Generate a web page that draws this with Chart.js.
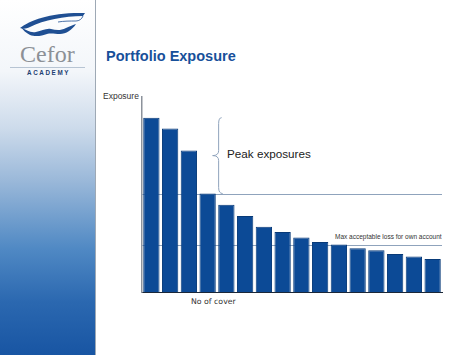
<!DOCTYPE html>
<html>
<head>
<meta charset="utf-8">
<script src="https://cdn.jsdelivr.net/npm/chart.js@4.4.1/dist/chart.umd.min.js"></script>
<style>
  html, body { margin: 0; padding: 0; background: #fff; }
  body { width: 474px; height: 355px; position: relative; overflow: hidden; font-family: "Liberation Sans", Arial, sans-serif; }
  #side {
    position: absolute; left: 0; top: 0; width: 95px; height: 355px;
    background: linear-gradient(to bottom, #ffffff 0%, #f3f6fa 20%, #cddbeb 36%, #9ab8d9 51%, #5089c4 70%, #2b68b0 85%, #1855a3 100%);
    border-right: 1px solid #9ea9b5;
  }
  .txt { position: absolute; white-space: nowrap; line-height: 1; }
  #cv { position: absolute; left: 0; top: 0; }
</style>
</head>
<body>
<div id="side">
  <svg width="95" height="80" style="position:absolute;left:0;top:0">
    <path d="M20 28 C30 20 52 12 85 13 L83 16 C64 16 44 20 30 27 C26 29 23 29 20 28 Z" fill="#1f4f93"/>
    <path d="M83 16 C82 19 79 21 76 21 C70 21 64 21 58 22" fill="none" stroke="#1f4f93" stroke-width="0.8"/>
    <path d="M21 27 C26 30 30 33 36 32 C42 31 46 28 51 29 C56 30 60 31 66 28 C70 26 73 25 76 24 C72 30 66 34 60 34 C55 34 51 33 47 34 C42 36 35 37 30 35 C26 33 23 30 21 27 Z" fill="#1f4f93"/>
  </svg>
  <div class="txt" style="left:20px;top:42px;font-family:'Liberation Serif','Times New Roman',serif;font-size:24px;color:#8c9096;">Cefor</div>
  <div style="position:absolute;left:10px;top:67px;width:75px;height:1px;background:#b7c4d3"></div>
  <div class="txt" style="left:27px;top:70px;font-size:6.3px;font-weight:900;letter-spacing:1.6px;color:#1d3f72;">ACADEMY</div>
</div>
<div class="txt" style="left:106px;top:49px;font-size:14.5px;font-weight:bold;color:#17509a;">Portfolio Exposure</div>
<div class="txt" style="left:103px;top:92px;font-size:8.5px;color:#333;">Exposure</div>
<div class="txt" style="left:191px;top:298px;font-family:'DejaVu Sans',Verdana,sans-serif;font-size:7.8px;color:#333;">No of cover</div>
<div class="txt" style="left:227px;top:148px;font-size:11.7px;color:#222;">Peak exposures</div>
<div class="txt" style="left:335px;top:234px;font-size:6.5px;color:#333;">Max acceptable loss for own account</div>
<canvas id="cv" width="474" height="355"></canvas>
<script>
const covers = ['1','2','3','4','5','6','7','8','9','10','11','12','13','14','15','16'];
const exposure = [89.4, 83.9, 72.6, 50.5, 44.7, 39.0, 33.4, 30.8, 27.9, 25.7, 24.3, 22.4, 21.4, 19.5, 18.2, 16.9];
const axisMax = 100;
const peakLevel = 50.5;
const maxLossLevel = 24.3;

const refLines = {
  id: 'refLines',
  beforeDatasetsDraw(chart) {
    const {ctx, chartArea, scales} = chart;
    ctx.save();
    ctx.strokeStyle = '#8fa3bc';
    ctx.lineWidth = 1;
    [peakLevel, maxLossLevel].forEach(v => {
      const y = Math.round(scales.y.getPixelForValue(v)) + 0.5;
      ctx.beginPath();
      ctx.moveTo(chartArea.left, y);
      ctx.lineTo(chartArea.right, y);
      ctx.stroke();
    });
    ctx.restore();
  },
  afterDatasetsDraw(chart) {
    // curly brace next to the peak bars
    const {ctx, scales} = chart;
    const top = scales.y.getPixelForValue(exposure[0]);
    const bot = scales.y.getPixelForValue(peakLevel);
    const mid = (top + bot) / 2;
    const x = scales.x.getPixelForValue(3) + 11;
    ctx.save();
    ctx.strokeStyle = '#8fa3bc';
    ctx.lineWidth = 1;
    ctx.beginPath();
    ctx.moveTo(x + 3, top);
    ctx.quadraticCurveTo(x, top, x, top + 6);
    ctx.lineTo(x, mid - 5);
    ctx.quadraticCurveTo(x, mid, x - 6, mid);
    ctx.quadraticCurveTo(x, mid, x, mid + 5);
    ctx.lineTo(x, bot - 6);
    ctx.quadraticCurveTo(x, bot, x + 4, bot);
    ctx.stroke();
    ctx.restore();
  }
};

new Chart(document.getElementById('cv'), {
  type: 'bar',
  data: {
    labels: covers,
    datasets: [{
      data: exposure,
      backgroundColor: '#0c4a96',
      borderColor: '#083a78',
      borderWidth: 1,
      barPercentage: 0.87,
      categoryPercentage: 1
    }]
  },
  options: {
    responsive: false,
    animation: false,
    layout: { padding: { left: 142, right: 32, top: 97, bottom: 63 } },
    plugins: { legend: { display: false }, tooltip: { enabled: false } },
    scales: {
      x: {
        ticks: { display: false },
        grid: { display: false, drawTicks: false },
        border: { display: true, color: '#1b2738', width: 1 }
      },
      y: {
        min: 0,
        max: axisMax,
        ticks: { display: false },
        grid: { display: false, drawTicks: false },
        border: { display: true, color: '#8c929b', width: 1.5 }
      }
    }
  },
  plugins: [refLines]
});
</script>
</body>
</html>
